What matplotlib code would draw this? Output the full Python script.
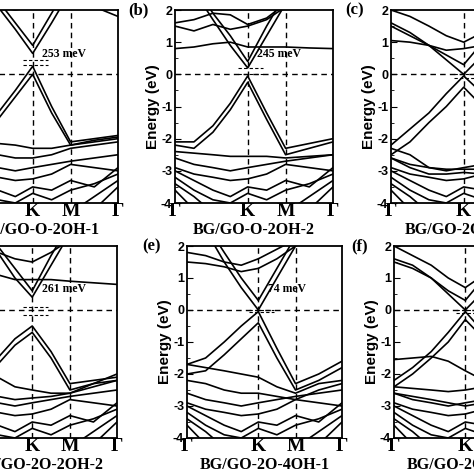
import numpy as np
import matplotlib
matplotlib.use("Agg")
import matplotlib.pyplot as plt

kx = [0, 0.12, 0.24, 0.35, 0.46, 0.58, 0.70, 0.85, 1.0]
kpos = [0, 0.46, 0.70, 1.0]
klabels = ["Γ", "K", "M", "Γ"]

titles = ["BG/GO-O-2OH-1", "BG/GO-O-2OH-2", "BG/GO-2O-2OH-1",
          "BG/GO-2O-2OH-2", "BG/GO-2O-4OH-1", "BG/GO-2O-4OH-2"]
letters = ["(a)", "(b)", "(c)", "(d)", "(e)", "(f)"]
gaps = ["253 meV", "245 meV", "", "261 meV", "74 meV", ""]
gap_levels = [(0.45, 0.28), (0.2, 0.0), (0.0, -0.1), (0.1, -0.15), (0.0, -0.05), (0.0, -0.1)]

common_low = [
    [-2.6, -2.8, -2.9, -3.0, -2.9, -2.8, -2.7, -2.6, -2.5],
    [-2.9, -3.1, -3.2, -3.3, -3.25, -3.1, -2.8, -2.9, -3.0],
    [-3.0, -3.3, -3.6, -3.8, -3.5, -3.6, -3.3, -3.5, -2.9],
    [-3.2, -3.6, -3.9, -4.0, -3.7, -3.9, -3.6, -3.4, -3.1],
    [-3.4, -3.8, -4.3, -4.5, -4.3, -4.5, -4.3, -3.8, -3.3],
    [-3.6, -4.2, -4.8, -4.8, -4.8, -4.8, -4.8, -4.2, -3.5],
]

bands_a = [
    [3.8, 3.0, 2.1, 1.4, 0.65, 1.6, 2.6, 3.3, 3.8],
    [4.0, 3.2, 2.3, 1.6, 0.9, 1.9, 2.9, 3.5, 4.0],
    [2.5, 2.3, 2.1, 2.0, 2.1, 2.3, 2.4, 2.1, 1.8],
    [-3.0, -2.0, -1.2, -0.5, 0.25, -1.0, -2.1, -2.0, -1.9],
    [-3.2, -2.2, -1.4, -0.7, 0.0, -1.2, -2.2, -2.1, -2.0],
    [-2.0, -2.1, -2.15, -2.2, -2.3, -2.3, -2.2, -2.05, -1.95],
    [-2.3, -2.4, -2.5, -2.6, -2.6, -2.5, -2.3, -2.2, -2.1],
] + common_low

bands_b = [
    [3.5, 2.6, 1.7, 0.9, 0.2, 1.2, 2.2, 3.0, 3.5],
    [3.7, 2.8, 1.9, 1.2, 0.4, 1.5, 2.5, 3.2, 3.7],
    [0.8, 0.85, 0.95, 1.0, 0.85, 0.85, 0.85, 0.82, 0.8],
    [1.5, 1.35, 1.55, 1.4, 1.5, 1.7, 2.1, 2.5, 2.8],
    [1.6, 1.7, 1.9, 1.85, 1.55, 1.75, 2.2, 2.4, 2.5],
    [-2.1, -2.1, -1.6, -0.9, -0.05, -1.2, -2.3, -2.15, -2.0],
    [-2.2, -2.3, -1.8, -1.1, -0.25, -1.4, -2.5, -2.3, -2.1],
    [-2.4, -2.45, -2.5, -2.55, -2.55, -2.55, -2.6, -2.55, -2.5],
] + common_low

bands_c = [
    [1.5, 1.2, 0.9, 0.6, 0.3, 1.0, 1.8, 2.5, 3.0],
    [1.6, 1.3, 0.9, 0.45, 0.0, 0.6, 1.3, 2.2, 2.8],
    [1.05, 1.0, 0.9, 0.75, 0.8, 0.9, 1.0, 0.9, 0.8],
    [2.0, 1.8, 1.5, 1.2, 1.0, 1.3, 1.7, 2.2, 2.5],
    [-2.2, -1.7, -1.2, -0.6, -0.05, -0.6, -1.3, -2.0, -2.2],
    [-2.5, -2.1, -1.5, -1.0, -0.4, -1.0, -1.8, -2.3, -2.4],
    [-2.3, -2.5, -2.9, -2.95, -2.95, -2.95, -2.9, -2.6, -2.4],
    [-2.6, -2.9, -3.1, -3.1, -3.05, -3.1, -3.0, -2.9, -2.7],
] + common_low

bands_d = [
    [3.6, 2.7, 1.8, 1.0, 0.4, 1.4, 2.4, 3.1, 3.6],
    [3.8, 2.9, 2.0, 1.3, 0.6, 1.7, 2.7, 3.3, 3.8],
    [1.5, 1.3, 1.1, 0.95, 0.95, 0.95, 0.9, 0.85, 0.8],
    [2.2, 2.0, 1.8, 1.6, 1.5, 1.8, 2.2, 2.5, 2.7],
    [-3.0, -2.2, -1.5, -0.9, -0.5, -1.3, -2.3, -2.2, -2.1],
    [-3.2, -2.4, -1.7, -1.1, -0.7, -1.5, -2.5, -2.3, -2.2],
    [-1.9, -1.95, -2.1, -2.4, -2.5, -2.6, -2.6, -2.3, -2.0],
    [-2.3, -2.5, -2.7, -2.8, -2.75, -2.7, -2.6, -2.4, -2.2],
] + common_low

bands_e = [
    [3.5, 2.7, 1.8, 1.0, 0.3, 1.3, 2.3, 3.0, 3.5],
    [3.4, 2.5, 1.5, 0.7, 0.0, 1.0, 2.0, 2.8, 3.3],
    [1.5, 1.45, 1.35, 1.2, 1.3, 1.6, 2.0, 2.3, 2.4],
    [1.8, 1.7, 1.5, 1.4, 1.6, 1.9, 2.2, 2.5, 2.6],
    [-1.7, -1.5, -1.0, -0.5, -0.05, -1.2, -2.3, -2.0, -1.6],
    [-2.0, -1.9, -1.4, -0.9, -0.4, -1.5, -2.5, -2.2, -1.8],
    [-1.7, -1.8, -1.9, -2.0, -2.1, -2.4, -2.6, -2.3, -2.2],
    [-2.2, -2.3, -2.5, -2.6, -2.6, -2.7, -2.8, -2.5, -2.3],
] + common_low

bands_f = [
    [1.5, 1.3, 1.0, 0.6, 0.3, 1.0, 1.8, 2.5, 3.0],
    [1.6, 1.4, 1.0, 0.5, 0.0, 0.6, 1.4, 2.2, 2.8],
    [2.0, 1.7, 1.4, 1.0, 0.7, 1.1, 1.7, 2.3, 2.6],
    [-2.2, -1.8, -1.3, -0.7, -0.05, -0.7, -1.4, -2.0, -2.2],
    [-2.4, -2.0, -1.5, -1.0, -0.3, -0.9, -1.6, -2.2, -2.4],
    [-1.55, -1.5, -1.45, -1.6, -1.9, -2.2, -2.4, -2.3, -2.2],
    [-2.4, -2.45, -2.5, -2.55, -2.5, -2.4, -2.3, -2.2, -2.1],
    [-2.6, -2.7, -2.8, -2.9, -3.0, -2.9, -2.8, -2.6, -2.5],
] + common_low

all_bands = [bands_a, bands_b, bands_c, bands_d, bands_e, bands_f]

rects = [(-40, 118, 10, 203), (175, 333, 10, 203), (391, 549, 10, 203),
         (-40, 117, 246, 438), (187, 342, 246, 438), (394, 549, 246, 438)]

W = H = 474
fig = plt.figure(figsize=(4.74, 4.74), dpi=100)
serif = "Liberation Serif"
sans = "Liberation Sans"

for i in range(6):
    l, r, t, b = rects[i]
    ax = fig.add_axes([l / W, 1 - b / H, (r - l) / W, (b - t) / H])
    for band in all_bands[i]:
        ax.plot(kx, band, color="black", lw=1.2)
    ax.set_xlim(0, 1)
    ax.set_ylim(-4, 2)
    for kp in kpos[1:3]:
        ax.axvline(kp, color="black", ls=(0, (4, 3)), lw=1.0)
    ax.axhline(0, color="black", ls=(0, (4, 3)), lw=1.0)
    hi, lo = gap_levels[i]
    for lev in (hi, lo):
        ax.plot([0.4, 0.56], [lev, lev], color="black", ls=(0, (3, 2)), lw=0.8)
    if gaps[i]:
        ax.text(0.52, 0.55, gaps[i], fontsize=8.5, fontfamily=serif, fontweight="bold")
    ax.set_xticks(kpos)
    ax.set_xticklabels(klabels, fontfamily=serif, fontweight="bold", fontsize=14)
    ax.set_yticks(range(-4, 3))
    ax.set_yticklabels([str(v) for v in range(-4, 3)], fontfamily=sans, fontweight="bold", fontsize=9)
    ax.set_yticks(np.arange(-4, 2.01, 0.5), minor=True)
    ax.tick_params(axis="y", which="both", direction="in", length=4, pad=2)
    ax.tick_params(axis="y", which="minor", length=2)
    ax.tick_params(axis="x", length=0, pad=0)
    for s in ax.spines.values():
        s.set_linewidth(1.3)
    ax.set_ylabel("Energy (eV)", fontfamily=sans, fontweight="bold", fontsize=11, labelpad=1)
    ax.text(-0.17, 1.0, letters[i], transform=ax.transAxes, fontfamily=serif,
            fontweight="bold", fontsize=12, ha="right", va="center")
    fig.text((l + r) / 2 / W, 1 - (b + 27) / H, titles[i], fontfamily=serif,
             fontweight="bold", fontsize=11.5, ha="center", va="center")

fig.savefig("out.png", dpi=100)
